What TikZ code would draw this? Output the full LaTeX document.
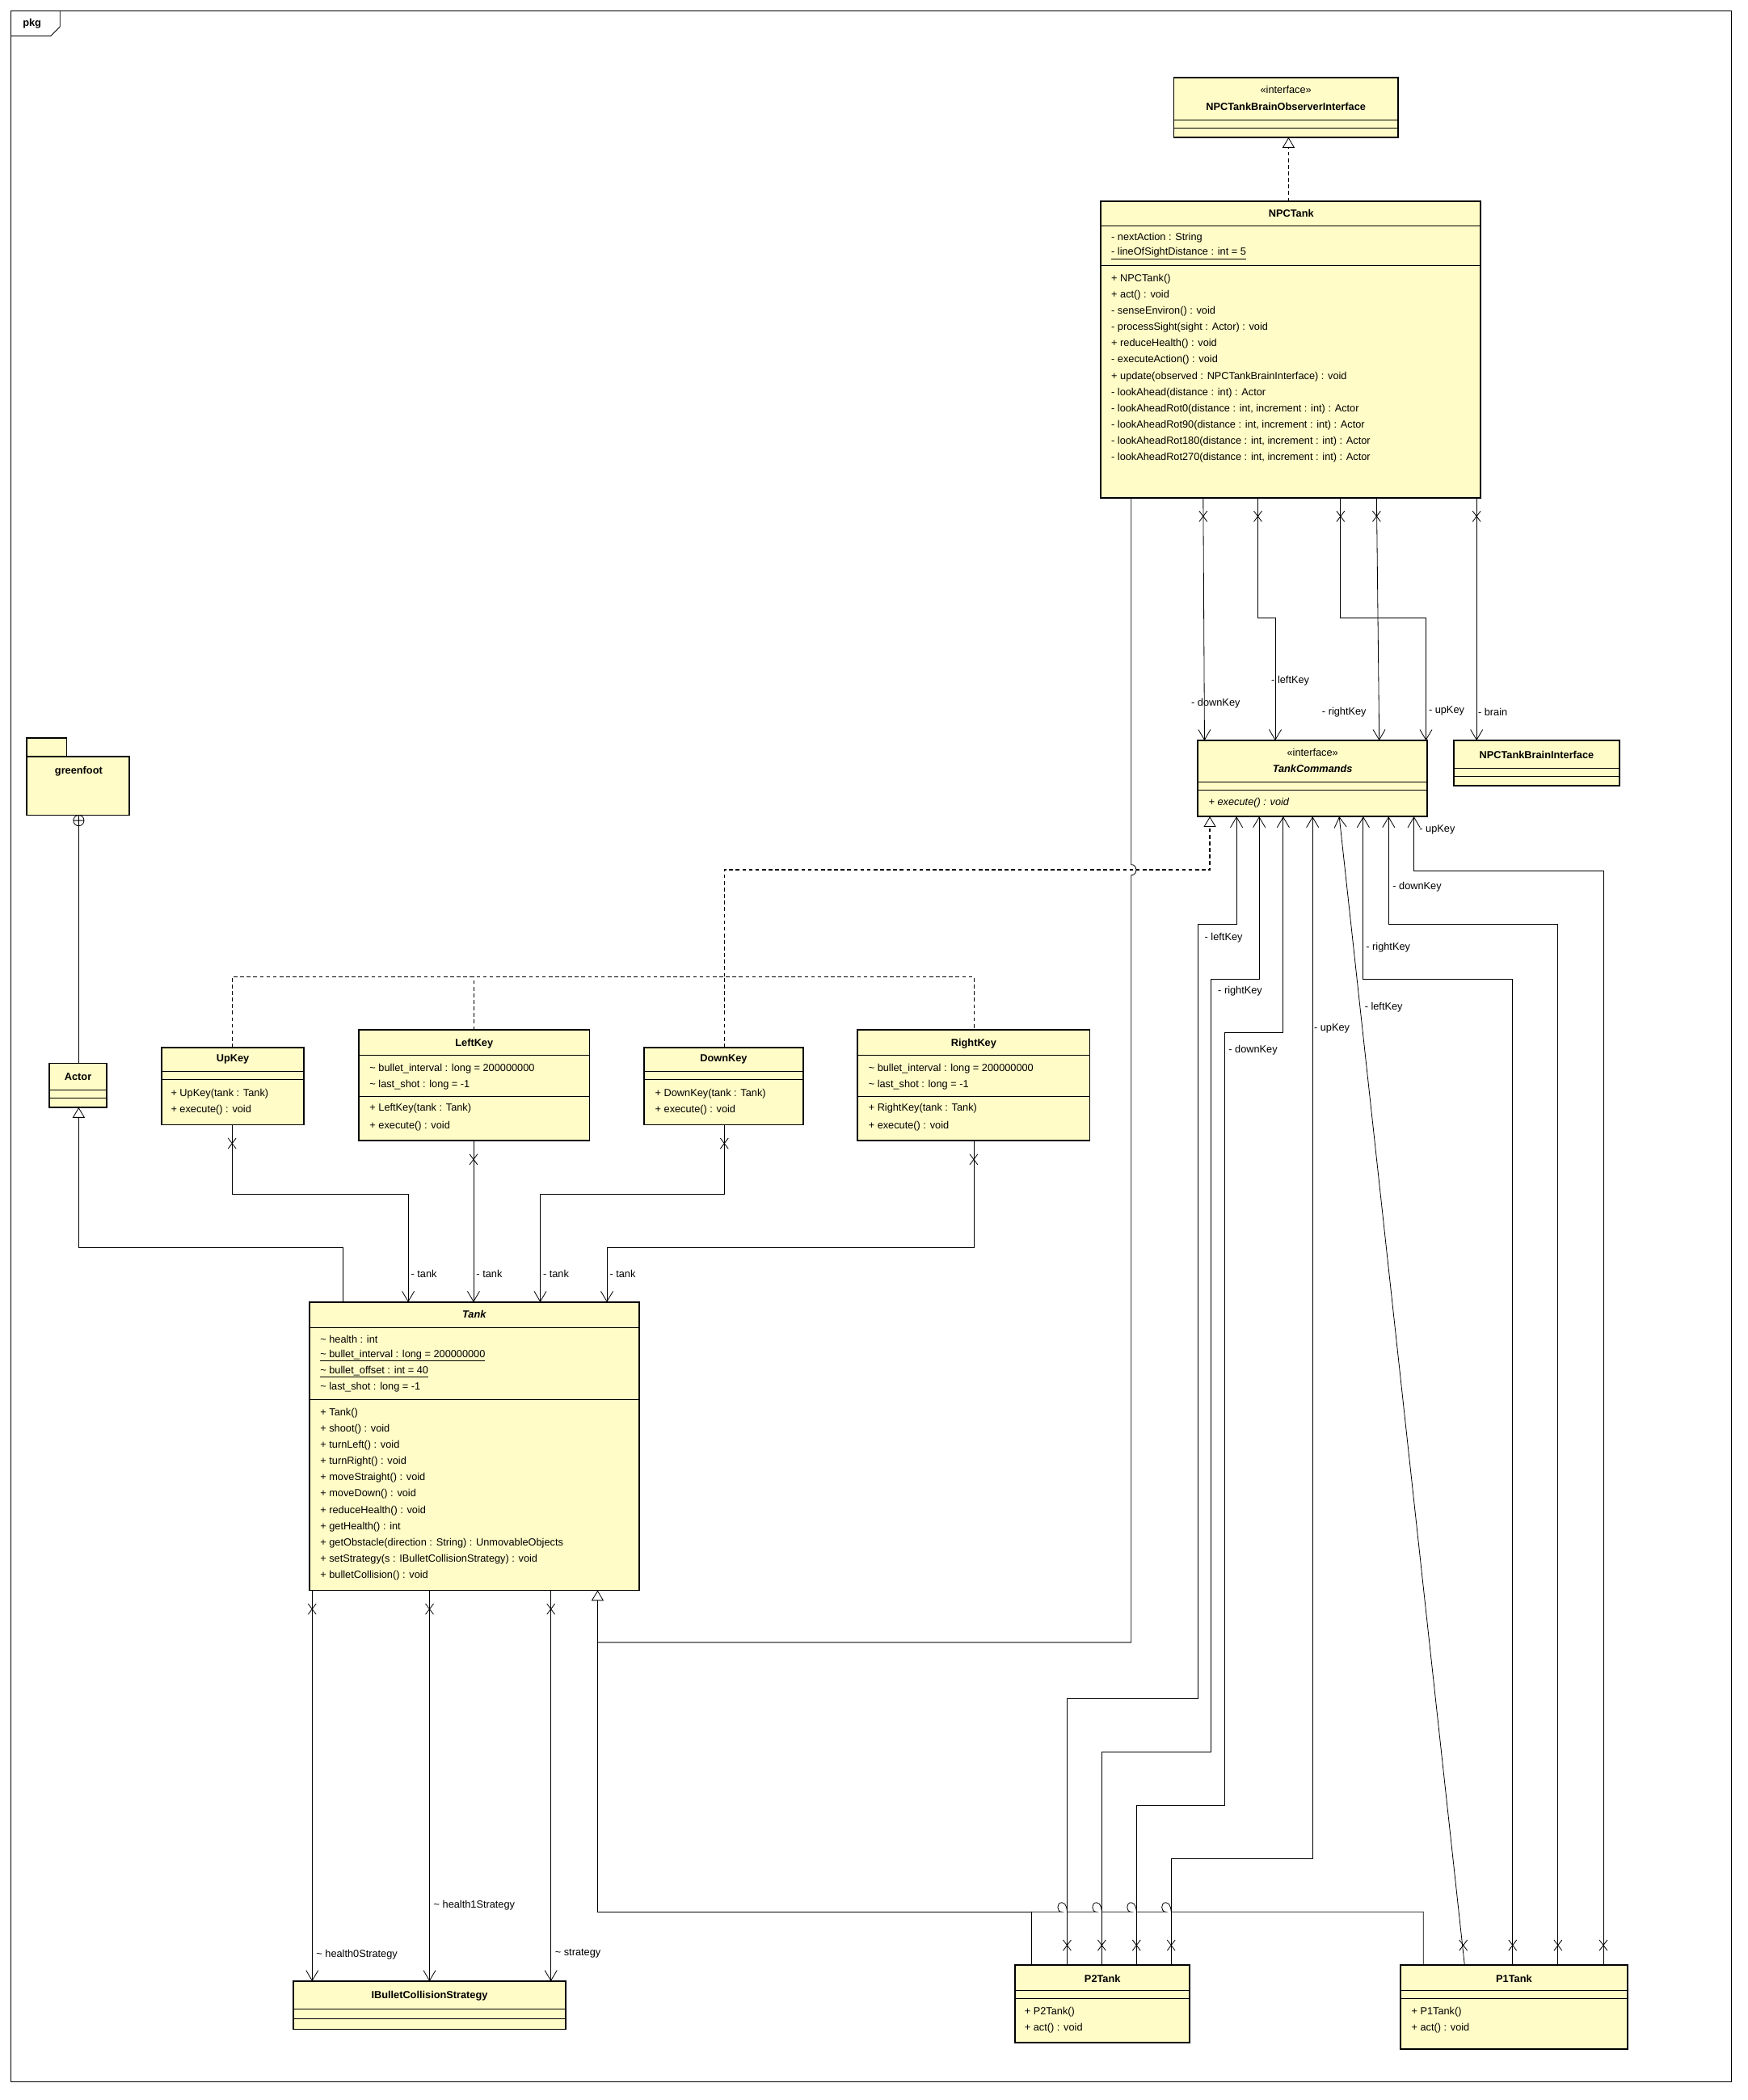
\documentclass[tikz,border=0pt]{standalone}
\usepackage{fontspec}
\setmainfont{Liberation Sans}
\usetikzlibrary{arrows.meta,fit}
\newcommand\tl{\textasciitilde}
\begin{document}
\begin{tikzpicture}[x=0.05cm,y=-0.05cm,
  every node/.style={font=\fontsize{11}{13}\selectfont,inner sep=0pt},
  cls/.style={draw,line width=1.6pt,fill=yellow!22!white},
  ln/.style={line width=0.7pt},
  dv/.style={line width=0.7pt},
  t/.style={anchor=west},
  nm/.style={font=\fontsize{11}{13}\selectfont\bfseries},
  lb/.style={anchor=west,font=\fontsize{11}{13}\selectfont},
  nav/.style={ln,-{Straight Barb[length=11pt,width=13pt,line width=0.7pt]}},
  gen/.style={ln,-{Triangle[open,length=11pt,width=13pt,line width=0.7pt,fill=white]}},
  real/.style={ln,dash pattern=on 4pt off 3pt,-{Triangle[open,length=11pt,width=13pt,line width=0.7pt,fill=white]}}]
\useasboundingbox (0,0) rectangle (1310,1574);
\newcommand\cbox[5]{\path (#2,#3) coordinate (#1-nw) (#4,#5) coordinate (#1-se);
  \node[cls,fit=(#1-nw)(#1-se)] (#1) {};}
\newcommand\xm[2]{\draw[ln] (#1-3,#2-4)--(#1+3,#2+4) (#1-3,#2+4)--(#1+3,#2-4);}
\newcommand\hop[1]{.. controls (#1-4,1433) and (#1-4,1426) .. (#1,1426) .. controls (#1+4,1426) and (#1+4,1433) .. (#1+4,1433)}
% frame
\draw[ln] (8,8) rectangle (1298,1560);
\draw[ln] (8,27) -- (38,27) -- (45,20) -- (45,8);
\node[nm] (pkg) at (24,18) {pkg};
% greenfoot package
\draw[cls] (20,553) rectangle (50,567);
\cbox{greenfoot}{20}{567}{97}{611}
\node[nm] at (59,578) {greenfoot};
% NPCTankBrainObserverInterface
\cbox{obs}{880}{58}{1048}{103}
\node at (964,67) {<<interface>>};
\node[nm] at (964,80) {NPCTankBrainObserverInterface};
\draw[dv] (880,90)--(1048,90) (880,96)--(1048,96);
% NPCTank
\cbox{npc}{825}{151}{1110}{373}
\node[nm] at (968,160) {NPCTank};
\draw[dv] (825,169)--(1110,169) (825,199)--(1110,199);
\node[t] at (833,178) {- nextAction : String};
\node[t] at (833,190) {\underline{- lineOfSightDistance : int = 5}};
\foreach \s [count=\i from 0] in {+ NPCTank(),+ act() : void,- senseEnviron() : void,- processSight(sight : Actor) : void,+ reduceHealth() : void,- executeAction() : void,+ update(observed : NPCTankBrainInterface) : void,- lookAhead(distance : int) : Actor,{- lookAheadRot0(distance : int, increment : int) : Actor},{- lookAheadRot90(distance : int, increment : int) : Actor},{- lookAheadRot180(distance : int, increment : int) : Actor},{- lookAheadRot270(distance : int, increment : int) : Actor}}
  \node[t] at (833,209+12.2*\i) {\s};
% TankCommands
\cbox{tc}{898}{555}{1070}{612}
\node at (984,564) {<<interface>>};
\node[nm,font=\fontsize{11}{13}\selectfont\bfseries\itshape] at (984,576) {TankCommands};
\draw[dv] (898,586)--(1070,586) (898,592)--(1070,592);
\node[t] at (906,602) {\itshape + execute() : void};
% NPCTankBrainInterface
\cbox{brain}{1090}{555}{1214}{589}
\node[nm] at (1152,566) {NPCTankBrainInterface};
\draw[dv] (1090,576)--(1214,576) (1090,582)--(1214,582);
% Actor
\cbox{actor}{37}{797}{80}{830}
\node[nm] at (58.5,807) {Actor};
\draw[dv] (37,817)--(80,817) (37,823)--(80,823);
% UpKey
\cbox{up}{121}{785}{228}{843}
\node[nm] at (174.5,794) {UpKey};
\draw[dv] (121,803)--(228,803) (121,809)--(228,809);
\node[t] at (128,820) {+ UpKey(tank : Tank)};
\node[t] at (128,832) {+ execute() : void};
% LeftKey
\cbox{left}{269}{772}{442}{855}
\node[nm] at (355.5,782) {LeftKey};
\draw[dv] (269,791)--(442,791) (269,822)--(442,822);
\node[t] at (277,801) {\tl{} bullet\_interval : long = 200000000};
\node[t] at (277,813) {\tl{} last\_shot : long = -1};
\node[t] at (277,831) {+ LeftKey(tank : Tank)};
\node[t] at (277,844) {+ execute() : void};
% DownKey
\cbox{down}{483}{785}{602}{843}
\node[nm] at (542.5,794) {DownKey};
\draw[dv] (483,803)--(602,803) (483,809)--(602,809);
\node[t] at (491,820) {+ DownKey(tank : Tank)};
\node[t] at (491,832) {+ execute() : void};
% RightKey
\cbox{right}{643}{772}{817}{855}
\node[nm] at (730,782) {RightKey};
\draw[dv] (643,791)--(817,791) (643,822)--(817,822);
\node[t] at (651,801) {\tl{} bullet\_interval : long = 200000000};
\node[t] at (651,813) {\tl{} last\_shot : long = -1};
\node[t] at (651,831) {+ RightKey(tank : Tank)};
\node[t] at (651,844) {+ execute() : void};
% Tank
\cbox{tank}{232}{976}{479}{1192}
\node[font=\fontsize{11}{13}\selectfont\bfseries\itshape] at (355.5,985) {Tank};
\draw[dv] (232,995)--(479,995) (232,1049)--(479,1049);
\node[t] at (240,1004) {\tl{} health : int};
\node[t] at (240,1016) {\underline{\tl{} bullet\_interval : long = 200000000}};
\node[t] at (240,1028) {\underline{\tl{} bullet\_offset : int = 40}};
\node[t] at (240,1040) {\tl{} last\_shot : long = -1};
\foreach \s [count=\i from 0] in {+ Tank(),+ shoot() : void,+ turnLeft() : void,+ turnRight() : void,+ moveStraight() : void,+ moveDown() : void,+ reduceHealth() : void,+ getHealth() : int,+ getObstacle(direction : String) : UnmovableObjects,+ setStrategy(s : IBulletCollisionStrategy) : void,+ bulletCollision() : void}
  \node[t] at (240,1059+12.2*\i) {\s};
% IBulletCollisionStrategy
\cbox{ibc}{220}{1485}{424}{1521}
\node[nm] at (322,1496) {IBulletCollisionStrategy};
\draw[dv] (220,1506)--(424,1506) (220,1513)--(424,1513);
% P2Tank
\cbox{p2}{761}{1473}{892}{1531}
\node[nm] at (826.5,1483) {P2Tank};
\draw[dv] (761,1492)--(892,1492) (761,1498)--(892,1498);
\node[t] at (768,1508) {+ P2Tank()};
\node[t] at (768,1520) {+ act() : void};
% P1Tank
\cbox{p1}{1050}{1473}{1220}{1536}
\node[nm] at (1135,1483) {P1Tank};
\draw[dv] (1050,1492)--(1220,1492) (1050,1498)--(1220,1498);
\node[t] at (1058,1508) {+ P1Tank()};
\node[t] at (1058,1520) {+ act() : void};

% ---- connectors ----
\draw[real] (966,151) -- (966,103);
% NPCTank -> TankCommands / brain
\draw[nav] (902,373) -- (903,555); \xm{902}{387}
\node[lb] at (893,527) {- downKey};
\draw[nav] (943,373) -- (943,463) -- (956,463) -- (956,555); \xm{943}{387}
\node[lb] at (953,510) {- leftKey};
\draw[nav] (1005,373) -- (1005,463) -- (1069,463) -- (1069,555); \xm{1005}{387}
\node[lb] at (1071,533) {- upKey};
\draw[nav] (1032,373) -- (1034,555); \xm{1032}{387}
\node[lb] at (991,534) {- rightKey};
\draw[nav] (1107,373) -- (1107,555); \xm{1107}{387}
\node[lb] at (1108,534) {- brain};
% NPCTank generalization to Tank
\draw[ln] (848,373) -- (848,648) .. controls (853,648) and (853,656) .. (848,656) -- (848,1231) -- (448,1231);
% realizations of keys
\draw[ln,dash pattern=on 4pt off 3pt] (174,785) -- (174,732) -- (730,732) -- (730,772)
  (355,772) -- (355,732) (543,785) -- (543,732);
\draw[real,line width=1.3pt] (543,732) -- (543,652) -- (907,652) -- (907,612);
% greenfoot containment
\draw[ln] (59,619) -- (59,797);
\draw[ln] (59,615) circle (4) (55,615)--(63,615) (59,611)--(59,619);
% Tank -> Actor
\draw[gen] (257,976) -- (257,935) -- (59,935) -- (59,830);
% keys -> Tank
\draw[nav] (174,843) -- (174,895) -- (306,895) -- (306,976); \xm{174}{857}
\node[lb] at (308,955) {- tank};
\draw[nav] (355,855) -- (355,976); \xm{355}{869}
\node[lb] at (357,955) {- tank};
\draw[nav] (543,843) -- (543,895) -- (405,895) -- (405,976); \xm{543}{857}
\node[lb] at (407,955) {- tank};
\draw[nav] (730,855) -- (730,935) -- (455,935) -- (455,976); \xm{730}{869}
\node[lb] at (457,955) {- tank};
% Tank -> IBulletCollisionStrategy
\draw[nav] (234,1192) -- (234,1485); \xm{234}{1206}
\node[lb] at (237,1465) {\tl{} health0Strategy};
\draw[nav] (322,1192) -- (322,1485); \xm{322}{1206}
\node[lb] at (325,1428) {\tl{} health1Strategy};
\draw[nav] (413,1192) -- (413,1485); \xm{413}{1206}
\node[lb] at (416,1464) {\tl{} strategy};
% P2/P1 generalization to Tank
\draw[gen] (773,1473) -- (773,1433) -- (448,1433) -- (448,1192);
\draw[ln] (773,1433) -- (796,1433) \hop{796} -- (822,1433) \hop{822} -- (848,1433) \hop{848} -- (874,1433) \hop{874} -- (1067,1433) -- (1067,1473);
% P2Tank -> TankCommands
\draw[nav] (800,1473) -- (800,1273) -- (898,1273) -- (898,693) -- (927,693) -- (927,612); \xm{800}{1458}
\node[lb] at (903,703) {- leftKey};
\draw[nav] (826,1473) -- (826,1313) -- (908,1313) -- (908,734) -- (944,734) -- (944,612); \xm{826}{1458}
\node[lb] at (913,743) {- rightKey};
\draw[nav] (852,1473) -- (852,1353) -- (918,1353) -- (918,774) -- (962,774) -- (962,612); \xm{852}{1458}
\node[lb] at (921,787) {- downKey};
\draw[nav] (878,1473) -- (878,1393) -- (984,1393) -- (984,612); \xm{878}{1458}
\node[lb] at (985,771) {- upKey};
% P1Tank -> TankCommands
\draw[nav] (1098,1473) -- (1004,612); \xm{1097}{1458}
\node[lb] at (1023,755) {- leftKey};
\draw[nav] (1134,1473) -- (1134,734) -- (1022,734) -- (1022,612); \xm{1134}{1458}
\node[lb] at (1024,710) {- rightKey};
\draw[nav] (1168,1473) -- (1168,693) -- (1041,693) -- (1041,612); \xm{1168}{1458}
\node[lb] at (1044,665) {- downKey};
\draw[nav] (1202,1473) -- (1202,653) -- (1060,653) -- (1060,612); \xm{1202}{1458}
\node[lb] at (1064,622) {- upKey};
\end{tikzpicture}
\end{document}
